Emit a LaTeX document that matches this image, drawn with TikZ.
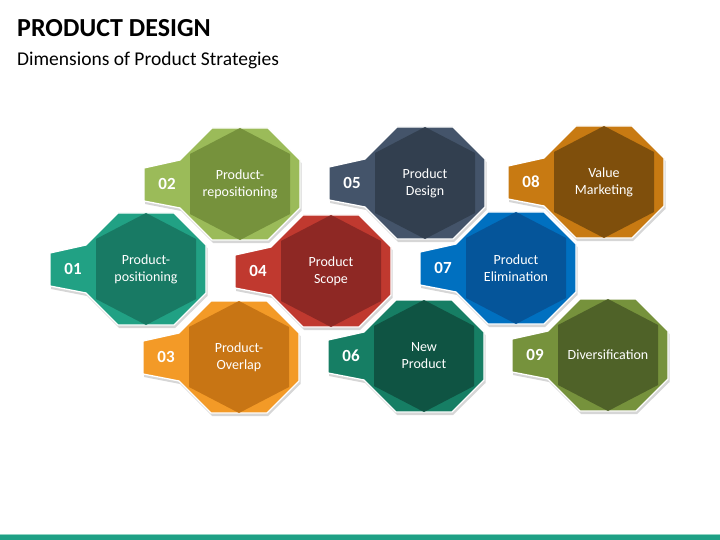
\documentclass[tikz,border=0pt]{standalone}
\usepackage{fontspec}
\setmainfont{Carlito}
\definecolor{tealbar}{HTML}{1FA085}
\definecolor{tealbarl}{HTML}{8FD3C2}
\definecolor{lA}{HTML}{21A184}\definecolor{dA}{HTML}{187A64}
\definecolor{lB}{HTML}{9BBB59}\definecolor{dB}{HTML}{76923C}
\definecolor{lC}{HTML}{F39A27}\definecolor{dC}{HTML}{C87514}
\definecolor{lD}{HTML}{C0392F}\definecolor{dD}{HTML}{8E2824}
\definecolor{lE}{HTML}{44546A}\definecolor{dE}{HTML}{323F4F}
\definecolor{lF}{HTML}{167E64}\definecolor{dF}{HTML}{0F5443}
\definecolor{lG}{HTML}{0070C0}\definecolor{dG}{HTML}{05559A}
\definecolor{lH}{HTML}{C87A12}\definecolor{dH}{HTML}{7F4F0C}
\definecolor{lI}{HTML}{76923C}\definecolor{dI}{HTML}{4F6228}
\tikzset{
  numlbl/.style={text=white,font=\fontsize{17}{17}\selectfont\bfseries,inner sep=0pt},
  txtlbl/.style={text=white,font=\fontsize{14}{17}\selectfont,align=center,inner sep=0pt},
  outerbox/.style={draw=white,line width=1.3pt,line join=round},
  shadowbox/.style={fill=black,opacity=0.16},
}
\newcommand\pshape[7]{%
\begin{scope}[shift={(#2,#3)}]
\fill[shadowbox] (-27,-53)--(29,-53)--(61.5,-21)--(61.5,27)--(29,59)--(-27,59)--(-59,27)--(-95,20)--(-95,-13)--(-59,-21)--cycle;
\filldraw[outerbox,fill=#4] (-28,-56)--(28,-56)--(60,-24)--(60,24)--(28,56)--(-28,56)--(-60,24)--(-96,17)--(-96,-16)--(-60,-24)--cycle;
\fill[#5] (0,-56)--(50,-30)--(50,30)--(0,56)--(-50,30)--(-50,-30)--cycle;
\node[numlbl] (#1n) at (-73,0) {#6};
\node[txtlbl] (#1t) at (0,0) {#7};
\end{scope}}
\begin{document}
\begin{tikzpicture}[x=1pt,y=-1pt]
\useasboundingbox (0,0) rectangle (720,540);
\fill[white] (0,0) rectangle (720,540);
\node[anchor=base west,inner sep=0pt,font=\fontsize{26}{26}\selectfont\bfseries] (title) at (17,37) {PRODUCT DESIGN};
\node[anchor=base west,inner sep=0pt,font=\fontsize{19.5}{19.5}\selectfont] (subtitle) at (17,66) {Dimensions of Product Strategies};
\pshape{s02}{240}{184}{lB}{dB}{02}{Product-\\repositioning}
\pshape{s05}{425}{183}{lE}{dE}{05}{Product\\Design}
\pshape{s08}{604}{182}{lH}{dH}{08}{Value\\Marketing}
\pshape{s01}{146}{269}{lA}{dA}{01}{Product-\\positioning}
\pshape{s04}{331}{271}{lD}{dD}{04}{Product\\Scope}
\pshape{s07}{516}{268}{lG}{dG}{07}{Product\\Elimination}
\pshape{s03}{239}{357}{lC}{dC}{03}{Product-\\Overlap}
\pshape{s06}{424}{356}{lF}{dF}{06}{New\\Product}
\pshape{s09}{608}{355}{lI}{dI}{09}{Diversification}
\fill[tealbarl] (0,533.5) rectangle (720,535);
\fill[tealbar] (0,535) rectangle (720,540);
\end{tikzpicture}
\end{document}
